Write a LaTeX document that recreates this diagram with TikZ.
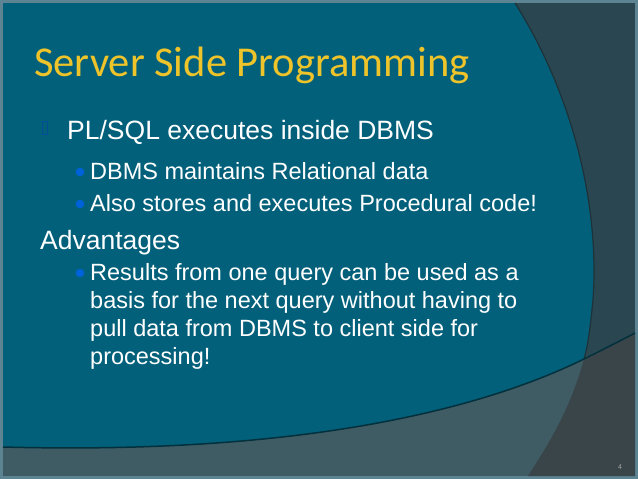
\documentclass[tikz,border=0pt]{standalone}
\usepackage{fontspec}
\setmainfont{Liberation Sans}
\newfontfamily\titlefont{Carlito}
\begin{document}
\begin{tikzpicture}[x=1pt,y=-1pt,
  body/.style={anchor=base west,inner sep=0,text=white,font=\fontsize{23.5}{28}\selectfont},
  big/.style={body,font=\fontsize{26.5}{30}\selectfont},
  dot/.style={fill=blue!55!cyan!85!black}]
\definecolor{bg}{HTML}{3F5C65}
\definecolor{panel}{HTML}{2A4751}
\definecolor{dk}{HTML}{394549}
\definecolor{teal}{HTML}{03607A}
\definecolor{edge}{HTML}{5C8493}
\definecolor{gold}{HTML}{EEC42A}
\useasboundingbox (0,0) rectangle (638,479);
\fill[edge] (0,0) rectangle (638,479);
\fill[bg] (3,3) rectangle (635,476);
\fill[panel] (505,3) rectangle (635,360);
\fill[dk] (584,359) .. controls (570,410) and (548,445) .. (528,476) -- (635,476) -- (635,333) .. controls (618,342) and (600,351) .. (584,359) -- cycle;
\fill[teal] (3,3) -- (515,3) .. controls (570,90) and (600,200) .. (593,300) .. controls (590,330) and (588,345) .. (584,359)
  .. controls (480,410) and (300,455) .. (3,447) -- cycle;
\draw[panel!70!black,line width=1.2] (515,3) .. controls (570,90) and (600,200) .. (593,300) .. controls (590,330) and (588,345) .. (584,359);
\draw[teal!50!black,line width=1.5] (635,333) .. controls (618,342) and (600,351) .. (584,359) .. controls (480,410) and (300,455) .. (3,447);
\node[anchor=base west,inner sep=0,text=gold,font=\titlefont\fontsize{42.5}{48}\selectfont] (t) at (34,76) {Server Side Programming};
\draw[teal!80!blue, line width=0.6] (42,121) rectangle (47,134);
\node[big] (a) at (67,139) {PL/SQL executes inside DBMS};
\fill[dot] (80,172) circle (4.3);
\node[body] (b1) at (90,179) {DBMS maintains Relational data};
\fill[dot] (80,204) circle (4.3);
\node[body] (b2) at (90,211) {Also stores and executes Procedural code!};
\node[big] (c) at (40,249) {Advantages};
\fill[dot] (80,273) circle (4.3);
\node[body] (e1) at (90,280) {Results from one query can be used as a};
\node[body] (e2) at (90,308) {basis for the next query without having to};
\node[body] (e3) at (90,336) {pull data from DBMS to client side for};
\node[body] (e4) at (90,364) {processing!};
\node[anchor=base,inner sep=0,text=gray!70,font=\fontsize{7}{8}\selectfont] (n) at (620,469) {4};
\end{tikzpicture}
\end{document}
